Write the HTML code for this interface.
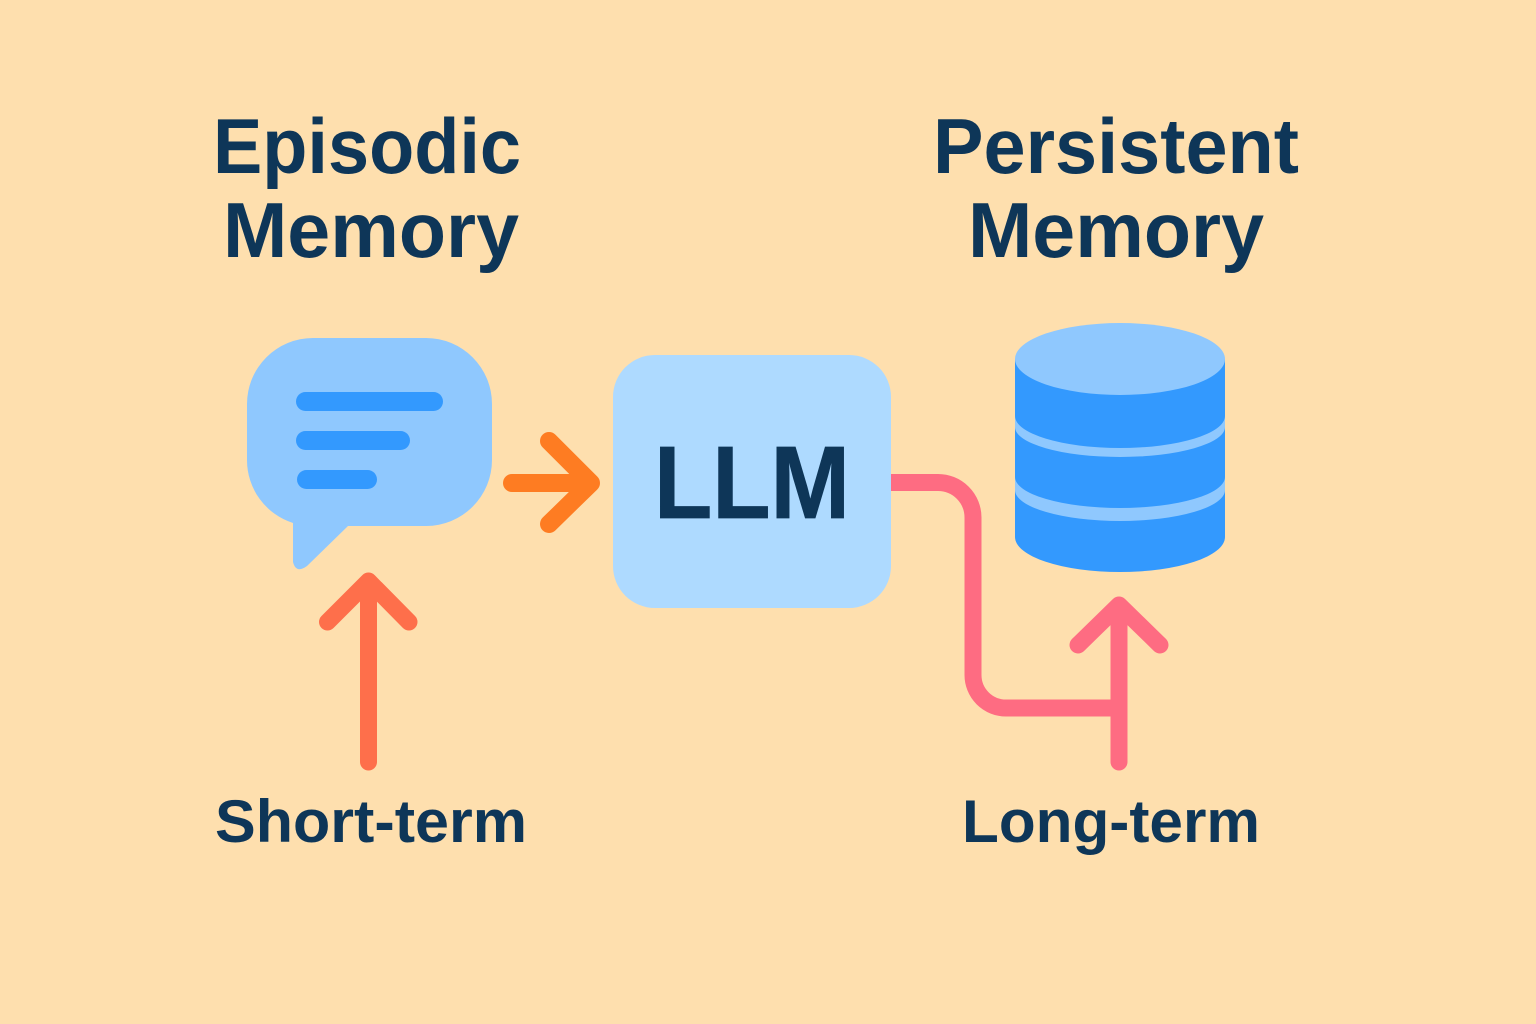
<!DOCTYPE html>
<html><head><meta charset="utf-8"><style>
html,body{margin:0;padding:0;background:#fedfae}
svg{display:block}
text{font-family:"Liberation Sans",sans-serif;fill:#0e3658;text-anchor:middle;font-weight:700}
</style></head><body>
<svg width="1536" height="1024" viewBox="0 0 1536 1024" xmlns="http://www.w3.org/2000/svg">
<rect width="1536" height="1024" fill="#fedfae"/>
<text x="367" y="173" font-size="78" textLength="308" lengthAdjust="spacingAndGlyphs">Episodic</text>
<text x="371" y="257" font-size="78" textLength="296" lengthAdjust="spacingAndGlyphs">Memory</text>
<text x="1116" y="173" font-size="78" textLength="366" lengthAdjust="spacingAndGlyphs">Persistent</text>
<text x="1116" y="257" font-size="78" textLength="296" lengthAdjust="spacingAndGlyphs">Memory</text>
<text x="371" y="842" font-size="60" textLength="312" lengthAdjust="spacingAndGlyphs">Short-term</text>
<text x="1111" y="842" font-size="60" textLength="298" lengthAdjust="spacingAndGlyphs">Long-term</text>
<path d="M313 338 H426 A66 66 0 0 1 492 404 V460 A66 66 0 0 1 426 526 H348 L307 566 Q296 574 293 562 V523 A66 66 0 0 1 247 460 V404 A66 66 0 0 1 313 338 Z" fill="#8fc8fe"/>
<rect x="296" y="392" width="147" height="19" rx="9.5" fill="#3399fe"/>
<rect x="296" y="431" width="114" height="19" rx="9.5" fill="#3399fe"/>
<rect x="297" y="470" width="80" height="19" rx="9.5" fill="#3399fe"/>
<rect x="613" y="355" width="278" height="253" rx="42" fill="#aedaff"/>
<text x="752" y="518" font-size="103" textLength="196" lengthAdjust="spacingAndGlyphs" stroke="#0e3658" stroke-width="0.8">LLM</text>
<path d="M1015 359 V537 A105 35 0 0 0 1225 537 V359 Z" fill="#3399fe"/>
<ellipse cx="1120" cy="359" rx="105" ry="36" fill="#8fc8fe"/>
<path d="M1015 416 A105 32 0 0 0 1225 416 V427 A105 30 0 0 1 1015 427 Z" fill="#8fc8fe"/>
<path d="M1015 477 A105 31 0 0 0 1225 477 V490 A105 31 0 0 1 1015 490 Z" fill="#8fc8fe"/>
<g fill="none" stroke-linecap="round" stroke-linejoin="round" stroke-width="17">
<path d="M512 483 H590 M549 441 L591 483 L549 524" stroke="#fe7c22" stroke-width="18"/>
<path d="M368.5 762 V582 M327.5 622 L368.5 581 L409 622" stroke="#fe6f4b"/>
<path d="M891 482.5 H938 A35 35 0 0 1 973 517.5 V675 A33 33 0 0 0 1006 708 H1119" stroke="#fe6c82" stroke-linecap="butt"/>
<path d="M1119 762 V605 M1078 645 L1119 605 L1160 645" stroke="#fe6c82"/>
</g>
</svg>
</body></html>
